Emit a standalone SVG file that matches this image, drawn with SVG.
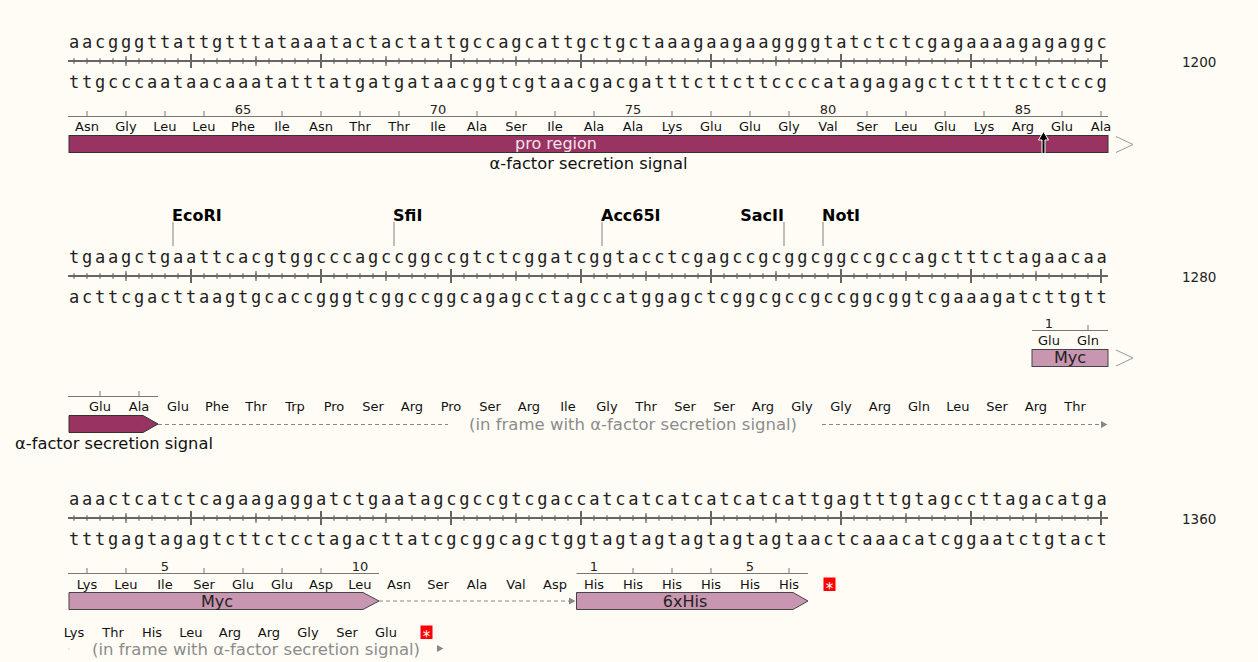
<svg xmlns="http://www.w3.org/2000/svg" width="1258" height="662" viewBox="0 0 1258 662">
<style>
.seq{font-family:"DejaVu Sans Mono","Liberation Mono",monospace;font-size:17px;letter-spacing:2.77px;fill:#222}
.aa{font-family:"DejaVu Sans","Liberation Sans",sans-serif;font-size:13px;text-anchor:middle;fill:#111}
.num{font-family:"DejaVu Sans","Liberation Sans",sans-serif;font-size:13px;text-anchor:middle;fill:#2a2020}
.pos{font-family:"DejaVu Sans","Liberation Sans",sans-serif;font-size:13.5px;fill:#222}
.flab{font-family:"DejaVu Sans","Liberation Sans",sans-serif;font-size:16.3px;text-anchor:middle;fill:#111}
.inbar{font-family:"DejaVu Sans","Liberation Sans",sans-serif;font-size:16px;text-anchor:middle}
.gray{font-family:"DejaVu Sans","Liberation Sans",sans-serif;font-size:16.5px;fill:#8c8c8c}
.site{font-family:"DejaVu Sans","Liberation Sans",sans-serif;font-size:16px;font-weight:bold;fill:#000}
.aaline{stroke:#777;stroke-width:1;fill:none}
.dash{stroke:#888;stroke-width:1;stroke-dasharray:4 3;fill:none}
.siteline{stroke:#808080;stroke-width:1}
.alpha{fill:#993361;stroke:#333;stroke-width:1}
.myc{fill:#c896b0;stroke:#444;stroke-width:1}
.chev{fill:none;stroke:#999;stroke-width:1}
.stop{fill:#f00}
.star{font-family:"DejaVu Sans","Liberation Sans",sans-serif;font-size:15px;text-anchor:middle;fill:#fff}
</style>
<defs>
<g id="dnaRuler">
<path d="M68,0H1108" stroke="#666" stroke-width="2"/>
<path d="M73.4,0H1102" stroke="#666" stroke-width="5.4" stroke-dasharray="1.2 11.8"/>
<path d="M125.4,0H1102" stroke="#666" stroke-width="10" stroke-dasharray="1.2 63.8"/>
<path d="M190,0H1102" stroke="#666" stroke-width="14" stroke-dasharray="2 128"/>
</g>
</defs>
<rect x="0" y="0" width="1258" height="662" fill="#fffcf5"/>

<!-- Row 1 -->
<g id="row1-sequence">
<text class="seq" x="69" y="48">aacgggttattgtttataaatactactattgccagcattgctgctaaagaagaaggggtatctctcgagaaaagagaggc</text>
<use href="#dnaRuler" y="61"/>
<text class="seq" x="69" y="87.5">ttgcccaataacaaatatttatgatgataacggtcgtaacgacgatttcttcttccccatagagagctcttttctctccg</text>
<text class="pos" x="1182" y="67">1200</text>
</g>
<g id="row1-translation">
<path class="aaline" d="M68,116.5H1108M87,111V116M126,111V116M165,111V116M204,111V116M282,111V116M321,111V116M360,111V116M399,111V116M477,111V116M516,111V116M555,111V116M594,111V116M672,111V116M711,111V116M750,111V116M789,111V116M867,111V116M906,111V116M945,111V116M984,111V116M1062,111V116M1101,111V116"/>
<text class="num" y="114"><tspan x="243">65</tspan><tspan x="438">70</tspan><tspan x="633">75</tspan><tspan x="828">80</tspan><tspan x="1023">85</tspan></text>
<text class="aa" y="131"><tspan x="87">Asn</tspan><tspan x="126">Gly</tspan><tspan x="165">Leu</tspan><tspan x="204">Leu</tspan><tspan x="243">Phe</tspan><tspan x="282">Ile</tspan><tspan x="321">Asn</tspan><tspan x="360">Thr</tspan><tspan x="399">Thr</tspan><tspan x="438">Ile</tspan><tspan x="477">Ala</tspan><tspan x="516">Ser</tspan><tspan x="555">Ile</tspan><tspan x="594">Ala</tspan><tspan x="633">Ala</tspan><tspan x="672">Lys</tspan><tspan x="711">Glu</tspan><tspan x="750">Glu</tspan><tspan x="789">Gly</tspan><tspan x="828">Val</tspan><tspan x="867">Ser</tspan><tspan x="906">Leu</tspan><tspan x="945">Glu</tspan><tspan x="984">Lys</tspan><tspan x="1023">Arg</tspan><tspan x="1062">Glu</tspan><tspan x="1101">Ala</tspan></text>
</g>
<g id="feature-alpha-row1">
<rect class="alpha" x="69" y="135.5" width="1039" height="17"/>
<text class="inbar" x="556" y="149" fill="#f2e4ec">pro region</text>
<path d="M1043.5,131.5 L1048.5,140 L1045,140 L1045,153.5 L1042,153.5 L1042,140 L1038.5,140 Z" fill="#000" stroke="#fff" stroke-width="1"/>
<polyline class="chev" points="1116,136.5 1133,144.5 1116,152.5"/>
<text class="flab" x="588.5" y="168.5">α-factor secretion signal</text>
</g>

<!-- Row 2 -->
<g id="row2-sequence">
<text class="seq" x="69" y="263">tgaagctgaattcacgtggcccagccggccgtctcggatcggtacctcgagccgcggcggccgccagctttctagaacaa</text>
<use href="#dnaRuler" y="276"/>
<text class="seq" x="69" y="302.5">acttcgacttaagtgcaccgggtcggccggcagagcctagccatggagctcggcgccgccggcggtcgaaagatcttgtt</text>
<text class="pos" x="1182" y="281.5">1280</text>
</g>
<g id="site-EcoRI"><text class="site" x="172" y="221">EcoRI</text></g>
<g id="site-SfiI"><text class="site" x="393" y="221">SfiI</text></g>
<g id="site-Acc65I"><text class="site" x="601" y="221">Acc65I</text></g>
<g id="site-SacII"><text class="site" x="784" y="221" text-anchor="end">SacII</text></g>
<g id="site-NotI"><text class="site" x="822" y="221">NotI</text></g>
<g id="feature-myc-row2">
<path class="aaline" d="M1032,330.5H1108M1088,325V330"/>
<text class="num" x="1049" y="328">1</text>
<text class="aa" y="345"><tspan x="1049">Glu</tspan><tspan x="1088">Gln</tspan></text>
<rect class="myc" x="1032" y="349.5" width="76" height="17"/>
<text class="inbar" x="1070" y="363" fill="#222">Myc</text>
<polyline class="chev" points="1116,350 1133,358 1116,366"/>
</g>
<g id="feature-alpha-row2">
<path class="aaline" d="M68,396.5H158M100,391V396M139,391V396"/>
<text class="aa" y="411"><tspan x="100">Glu</tspan><tspan x="139">Ala</tspan><tspan x="178">Glu</tspan><tspan x="217">Phe</tspan><tspan x="256">Thr</tspan><tspan x="295">Trp</tspan><tspan x="334">Pro</tspan><tspan x="373">Ser</tspan><tspan x="412">Arg</tspan><tspan x="451">Pro</tspan><tspan x="490">Ser</tspan><tspan x="529">Arg</tspan><tspan x="568">Ile</tspan><tspan x="607">Gly</tspan><tspan x="646">Thr</tspan><tspan x="685">Ser</tspan><tspan x="724">Ser</tspan><tspan x="763">Arg</tspan><tspan x="802">Gly</tspan><tspan x="841">Gly</tspan><tspan x="880">Arg</tspan><tspan x="919">Gln</tspan><tspan x="958">Leu</tspan><tspan x="997">Ser</tspan><tspan x="1036">Arg</tspan><tspan x="1075">Thr</tspan></text>
<path class="alpha" d="M69,415.5H143L158,424L143,432.5H69Z"/>
<text class="flab" x="114" y="448.5">α-factor secretion signal</text>
<text class="gray" x="469" y="430">(in frame with α-factor secretion signal)</text>
</g>

<!-- Row 3 -->
<g id="row3-sequence">
<text class="seq" x="69" y="505">aaactcatctcagaagaggatctgaatagcgccgtcgaccatcatcatcatcatcattgagtttgtagccttagacatga</text>
<use href="#dnaRuler" y="518"/>
<text class="seq" x="69" y="544.5">tttgagtagagtcttctcctagacttatcgcggcagctggtagtagtagtagtagtaactcaaacatcggaatctgtact</text>
<text class="pos" x="1182" y="524">1360</text>
</g>
<g id="feature-myc-row3">
<path class="aaline" d="M68,573.5H379M87,568V573M126,568V573M204,568V573M243,568V573M282,568V573M321,568V573"/>
<text class="num" y="571"><tspan x="165">5</tspan><tspan x="360">10</tspan></text>
<text class="aa" y="588.5"><tspan x="87">Lys</tspan><tspan x="126">Leu</tspan><tspan x="165">Ile</tspan><tspan x="204">Ser</tspan><tspan x="243">Glu</tspan><tspan x="282">Glu</tspan><tspan x="321">Asp</tspan><tspan x="360">Leu</tspan><tspan x="399">Asn</tspan><tspan x="438">Ser</tspan><tspan x="477">Ala</tspan><tspan x="516">Val</tspan><tspan x="555">Asp</tspan></text>
<path class="myc" d="M69,592.5H363L379,601L363,609.5H69Z"/>
<text class="inbar" x="217" y="606.5" fill="#222">Myc</text>
</g>
<g id="feature-6xhis">
<path class="aaline" d="M576.5,573.5H808M633,568V573M672,568V573M711,568V573M789,568V573"/>
<text class="num" y="571"><tspan x="594">1</tspan><tspan x="750">5</tspan></text>
<text class="aa" y="588.5"><tspan x="594">His</tspan><tspan x="633">His</tspan><tspan x="672">His</tspan><tspan x="711">His</tspan><tspan x="750">His</tspan><tspan x="789">His</tspan></text>
<path class="myc" d="M576.5,592.5H793L808,601L793,609.5H576.5Z"/>
<text class="inbar" x="685" y="606.5" fill="#222">6xHis</text>
<rect class="stop" x="823.5" y="577.5" width="12" height="13.5"/>
<text class="star" x="829.5" y="593.5">*</text>
</g>
<g id="feature-alpha-row3">
<text class="aa" y="637"><tspan x="74">Lys</tspan><tspan x="113">Thr</tspan><tspan x="152">His</tspan><tspan x="191">Leu</tspan><tspan x="230">Arg</tspan><tspan x="269">Arg</tspan><tspan x="308">Gly</tspan><tspan x="347">Ser</tspan><tspan x="386">Glu</tspan></text>
<rect class="stop" x="420.5" y="625.5" width="12" height="13.5"/>
<text class="star" x="426.5" y="641.5">*</text>
<text class="gray" x="92" y="655">(in frame with α-factor secretion signal)</text>
</g>

<g id="connectors">
<line class="siteline" x1="173" y1="222" x2="173" y2="246"/>
<line class="siteline" x1="394" y1="222" x2="394" y2="246"/>
<line class="siteline" x1="602" y1="222" x2="602" y2="246"/>
<line class="siteline" x1="784" y1="222" x2="784" y2="246"/>
<line class="siteline" x1="823" y1="222" x2="823" y2="246"/>
<line class="dash" x1="158" y1="424.5" x2="448" y2="424.5"/>
<line class="dash" x1="822" y1="424.5" x2="1101" y2="424.5"/>
<path d="M1101,421L1107.5,424.5L1101,428Z" fill="#888"/>
<line class="dash" x1="379" y1="601" x2="570" y2="601"/>
<path d="M569,597.5L575.5,601L569,604.5Z" fill="#888"/>
<rect x="68.5" y="648.5" width="1" height="1" fill="#aaa"/>
<path d="M437,645L443.5,648.5L437,652Z" fill="#888"/>
</g>
</svg>
